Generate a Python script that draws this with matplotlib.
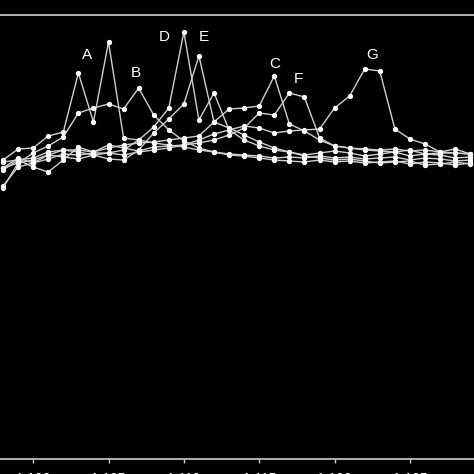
import numpy as np
import matplotlib.pyplot as plt

# channel index along x, intensity (arbitrary units, 0-100) along y
channels = np.arange(32)

# pixel heights, converted below
series_px = {
    "A": [160, 149, 148, 136, 132, 73, 122, 42, 138, 140, 143, 145, 147, 150, 152, 154,
          155, 156, 158, 157, 158, 156, 158, 157, 159, 158, 157, 160, 158, 159, 161, 160],
    "B": [168, 163, 153, 146, 137, 113, 108, 104, 109, 88, 115, 130, 141, 148, 152, 155,
          156, 158, 160, 161, 162, 160, 162, 161, 163, 162, 161, 164, 162, 163, 165, 163],
    "C": [162, 160, 158, 152, 150, 150, 152, 148, 145, 143, 142, 140, 138, 136, 122, 109,
          108, 106, 76, 124, 131, 140, 146, 148, 149, 150, 149, 151, 150, 152, 153, 154],
    "D": [186, 167, 163, 159, 154, 155, 153, 153, 150, 140, 127, 108, 32, 120, 93, 130,
          140, 146, 150, 152, 155, 153, 151, 153, 156, 154, 152, 156, 154, 155, 158, 157],
    "E": [188, 163, 160, 155, 157, 159, 155, 159, 160, 150, 133, 119, 104, 56, 122, 128,
          135, 142, 148, 152, 156, 158, 160, 159, 161, 163, 162, 161, 165, 164, 162, 164],
    "F": [170, 160, 167, 172, 160, 147, 152, 145, 148, 151, 147, 146, 145, 143, 140, 135,
          128, 113, 115, 93, 97, 138, 146, 148, 150, 151, 152, 150, 154, 153, 153, 154],
    "G": [168, 158, 163, 155, 150, 152, 155, 153, 155, 152, 150, 148, 145, 140, 134, 130,
          126, 128, 133, 131, 130, 129, 108, 96, 69, 71, 129, 139, 144, 152, 149, 154],
}
series = {k: (459 - np.array(v)) / 4.44 for k, v in series_px.items()}

labels = ["A", "B", "C", "D", "E", "F", "G"]
label_x = [5.6, 8.8, 18.0, 10.7, 13.3, 19.6, 24.5]
label_y = [91, 87, 89, 95, 95, 85.6, 91]

tick_pos = [2, 7, 12, 17, 22, 27]
tick_labels = ["1.100", "1.105", "1.110", "1.115", "1.120", "1.125"]

fig = plt.figure(figsize=(4.74, 4.74), dpi=100, facecolor="black")
ax = fig.add_axes([0, 15 / 474, 1, 444 / 474], facecolor="black")

for k in labels:
    ax.plot(channels, series[k], color="#cfcfcf", lw=1.0, marker="o", ms=2.8,
            mfc="white", mec="white", zorder=3)

for lab, x, y in zip(labels, label_x, label_y):
    ax.text(x, y, lab, color="white", fontsize=11, family="Liberation Sans",
            ha="center", va="center")

ax.set_xlim(-0.2, 31.25)
ax.set_ylim(0, 100)
ax.set_yticks([])
ax.set_xticks(tick_pos)
ax.set_xticklabels(tick_labels, color="white", fontsize=10, family="Liberation Sans")
ax.tick_params(axis="x", colors="#cfcfcf", length=3, width=1, pad=6.6, labelcolor="white")
for s in ["left", "right"]:
    ax.spines[s].set_visible(False)
for s in ["top", "bottom"]:
    ax.spines[s].set_color("#cfcfcf")
    ax.spines[s].set_linewidth(1.2)

fig.savefig("out.png", dpi=100, facecolor="black")
